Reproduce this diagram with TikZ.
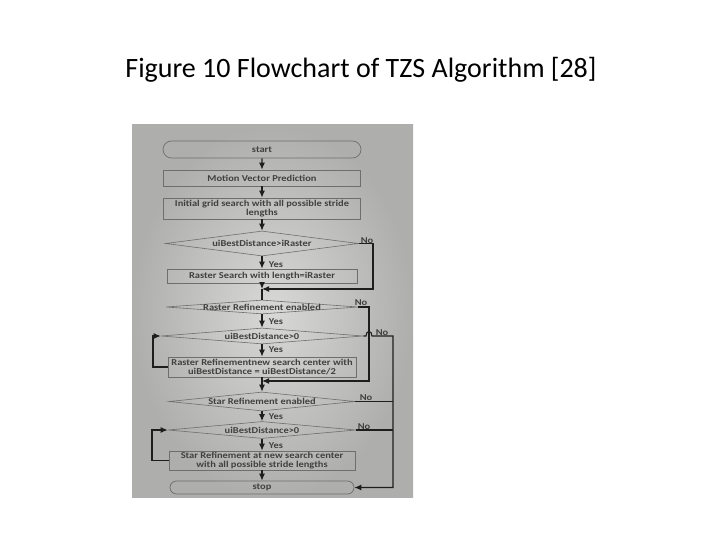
\documentclass[tikz,border=0pt]{standalone}
\usepackage{fontspec}
\setmainfont{Carlito}
\newfontfamily\flowfont[FakeStretch=1.16]{Carlito}
\usetikzlibrary{shapes.geometric,shapes.misc,arrows.meta}
\definecolor{bgin}{HTML}{D8D9D7}
\definecolor{bgout}{HTML}{AEAFAD}
\definecolor{ink}{HTML}{1E1E1E}
\definecolor{edge}{HTML}{6E6E6E}
\begin{document}
\begin{tikzpicture}[x=1pt,y=-1pt,
  flowtext/.style={font=\flowfont\bfseries\fontsize{9}{8.5}\selectfont, text=ink!85},
  procbox/.style={draw=edge, line width=0.7pt, rectangle, inner sep=0pt, flowtext, align=center},
  termbox/.style={draw=edge, line width=0.7pt, rounded rectangle, inner sep=0pt, flowtext},
  decbox/.style={draw=edge, line width=0.6pt, diamond, inner sep=0pt},
  conn/.style={draw=ink, line width=1.1pt},
  arr/.style={conn, -{Latex[length=7pt,width=6pt]}},
  lbl/.style={flowtext, inner sep=0pt}
]
\useasboundingbox (0,0) rectangle (720,540);
\fill[white] (0,0) rectangle (720,540);
\node[font=\fontsize{28}{34}\selectfont, anchor=base, inner sep=0pt] (title) at (361,78) {Figure 10 Flowchart of TZS Algorithm [28]};
\shade[inner color=bgin, outer color=bgout] (132,125) rectangle (413,497);

% nodes
\node[termbox, minimum width=198pt, minimum height=17pt] (start) at (262,149.5) {start};
\node[procbox, minimum width=197pt, minimum height=16pt] (mvp) at (262,178) {Motion Vector Prediction};
\node[procbox, minimum width=197pt, minimum height=21pt] (grid) at (262,208.5) {Initial grid search with all possible stride\\lengths};
\node[decbox, minimum width=193pt, minimum height=25pt] (d1) at (262,243.5) {};
\node[lbl] (d1t) at (d1) {uiBestDistance>iRaster};
\node[procbox, minimum width=190pt, minimum height=14pt] (raster) at (262,276) {Raster Search with length=iRaster};
\coordinate (join1) at (262,289);
\node[decbox, minimum width=192pt, minimum height=14pt] (d2) at (262,307) {};
\node[lbl] (d2t) at (d2) {Raster Refinement enabled};
\node[decbox, minimum width=202pt, minimum height=16pt] (d3) at (262,336) {};
\node[lbl] (d3t) at (d3) {uiBestDistance>0};
\node[procbox, minimum width=188pt, minimum height=20pt] (rr) at (262,367) {Raster Refinementnew search center with\\uiBestDistance = uiBestDistance/2};
\coordinate (join2) at (262,381);
\node[decbox, minimum width=186pt, minimum height=19pt] (d4) at (262,401.5) {};
\node[lbl] (d4t) at (d4) {Star Refinement enabled};
\node[decbox, minimum width=188pt, minimum height=17pt] (d5) at (262,430) {};
\node[lbl] (d5t) at (d5) {uiBestDistance>0};
\node[procbox, minimum width=186pt, minimum height=19pt] (sr) at (262,460.5) {Star Refinement at new search center\\with all possible stride lengths};
\node[termbox, minimum width=184pt, minimum height=13pt] (stop) at (262,487.5) {stop};

% helper coordinates
\coordinate (r1) at (373,289);
\coordinate (r2) at (369,381);
\coordinate (r3) at (393,487.5);
\coordinate (hopL) at (366,336);
\coordinate (hopR) at (372,336);
\coordinate (l1) at (153,367);
\coordinate (l2) at (152,460.5);

% main flow
\draw[arr] (start) -- (mvp);
\draw[arr] (mvp) -- (grid);
\draw[arr] (grid) -- (d1);
\draw[arr] (d1) -- (raster);
\draw[arr] (raster) -- (join1);
\draw[conn] (join1) -- (d2.north);
\draw[arr] (d2) -- (d3);
\draw[arr] (d3) -- (rr);
\draw[conn] (rr) -- (join2);
\draw[arr] (join2) -- (d4.north);
\draw[arr] (d4) -- (d5);
\draw[arr] (d5) -- (sr);
\draw[arr] (sr) -- (stop);

% No branches
\draw[arr] (d1.east) -| (r1) -- (join1);
\draw[arr] (d2.east) -| (r2) -- (join2);
\draw[arr] (d3.east) -- (hopL) .. controls +(0,-6) and +(0,-6) .. (hopR) -| (r3) -- (stop.east);
\draw[conn] (d4.east) -- (d4.east -| r3);
\draw[conn] (d5.east) -- (d5.east -| r3);

% loops
\draw[arr] (rr.west) -- (l1) |- (d3.west);
\draw[arr] (sr.west) -- (l2) |- (d5.west);

% labels
\node[lbl] (no1) at (367,240.5) {No};
\node[lbl] (no2) at (361,302.7) {No};
\node[lbl] (no3) at (382,332.3) {No};
\node[lbl] (no4) at (366,397.7) {No};
\node[lbl] (no5) at (364,426.7) {No};
\node[lbl] (y1) at (276,265) {Yes};
\node[lbl] (y2) at (276,321.5) {Yes};
\node[lbl] (y3) at (276,350) {Yes};
\node[lbl] (y4) at (276,417) {Yes};
\node[lbl] (y5) at (276,445.5) {Yes};
\end{tikzpicture}
\end{document}
